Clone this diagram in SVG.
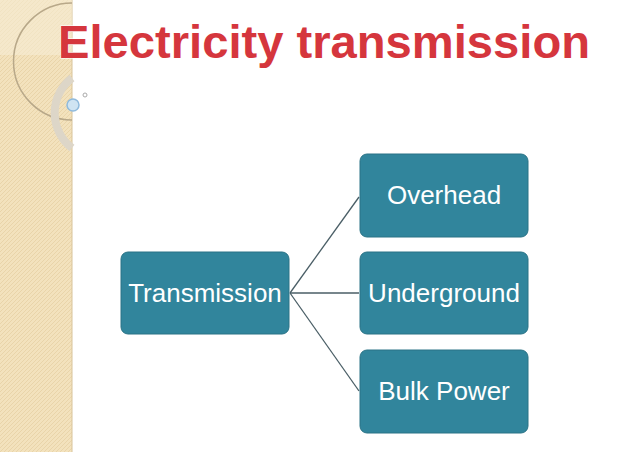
<svg xmlns="http://www.w3.org/2000/svg" width="638" height="452" viewBox="0 0 638 452">
<style>
.box{fill:#31859c;stroke:#2a7386;stroke-width:1}
.lbl{font-family:"Liberation Sans",Arial,sans-serif;font-size:26px;fill:#fff;text-anchor:middle}
.con{stroke:#4a5e66;stroke-width:1.3;fill:none}
</style>
<defs>
<pattern id="hatch" width="4" height="4" patternUnits="userSpaceOnUse">
<rect width="4" height="4" fill="#f3e2bd"/>
<path d="M0 4L4 0" stroke="#e6d0a3" stroke-width="0.8"/>
</pattern>
</defs>
<rect width="638" height="452" fill="#fff"/>
<rect x="0" y="0" width="72" height="452" fill="url(#hatch)"/>
<line x1="72" y1="0" x2="72" y2="452" stroke="#d8c49a" stroke-width="1"/>
<rect x="0" y="0" width="72" height="55" fill="#f7ecd3" opacity="0.6"/>
<path d="M72 3A58 58 0 0 0 72 120" fill="none" stroke="#b8a889" stroke-width="1.5"/>
<path d="M72 78A44 44 0 0 0 72 148" fill="none" stroke="#ddd6c8" stroke-width="8"/>
<circle cx="73" cy="105" r="6" fill="#cfe4f2" stroke="#8fbadc" stroke-width="1.5"/>
<circle cx="85" cy="95" r="2" fill="none" stroke="#aaa" stroke-width="1"/>
<text x="324" y="58" font-family="Liberation Sans,Arial,sans-serif" font-size="46" font-weight="bold" fill="#d5363d" stroke="#fff" stroke-width="1" text-anchor="middle" textLength="532" lengthAdjust="spacingAndGlyphs" style="paint-order:stroke">Electricity transmission</text>
<g id="connectors">
<line class="con" x1="290" y1="293" x2="359" y2="197"/>
<line class="con" x1="290" y1="293" x2="359" y2="293"/>
<line class="con" x1="290" y1="293" x2="359" y2="391"/>
</g>
<g id="transmission"><rect class="box" x="121" y="252" width="168" height="82" rx="7"/><text class="lbl" x="205" y="302">Transmission</text></g>
<g id="overhead"><rect class="box" x="360" y="154" width="168" height="83" rx="7"/><text class="lbl" x="444" y="204">Overhead</text></g>
<g id="underground"><rect class="box" x="360" y="252" width="168" height="82" rx="7"/><text class="lbl" x="444" y="302">Underground</text></g>
<g id="bulk"><rect class="box" x="360" y="350" width="168" height="83" rx="7"/><text class="lbl" x="444" y="400">Bulk Power</text></g>
</svg>
